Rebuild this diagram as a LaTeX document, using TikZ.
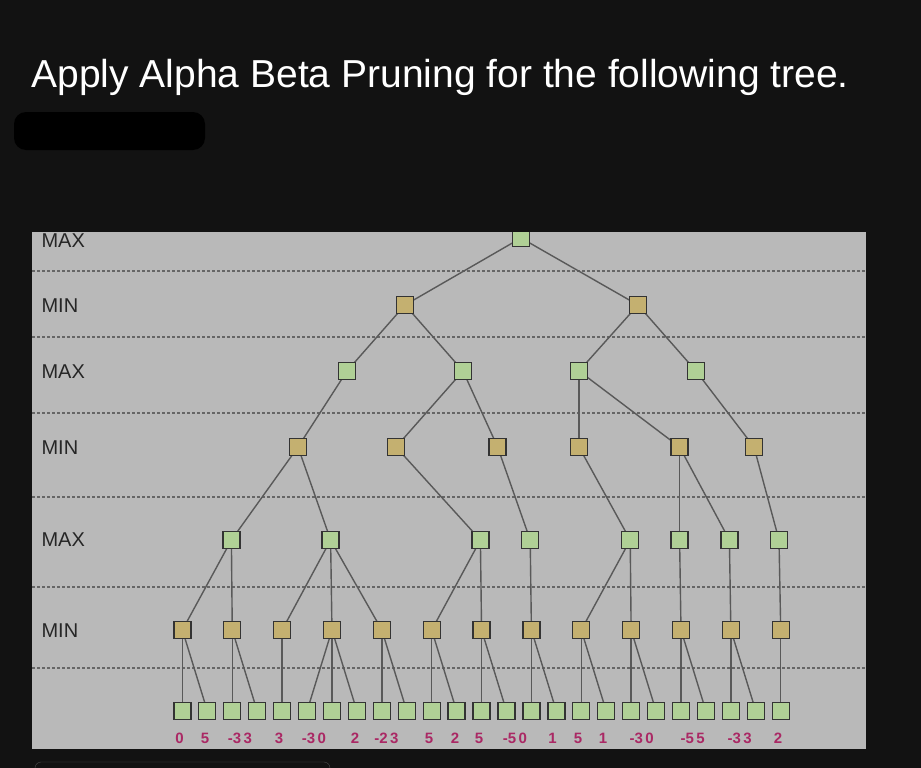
\documentclass[tikz,border=0pt]{standalone}
\usepackage{fontspec}
\setmainfont{Liberation Sans}
\begin{document}
\begin{tikzpicture}[x=1pt,y=-1pt,
  mx/.style={draw=black!80,fill={rgb,255:red,176;green,208;blue,150},minimum size=17pt,inner sep=0pt,line width=1.3pt},
  mn/.style={draw=black!80,fill={rgb,255:red,196;green,176;blue,112},minimum size=17pt,inner sep=0pt,line width=1.3pt},
  edge/.style={draw=black!65,line width=1.4pt},
  sep/.style={black!60,densely dashed,line width=1.1pt},
  lvl/.style={anchor=west,font=\fontsize{20}{20}\selectfont,text=black!85},
  val/.style={font=\fontsize{15}{15}\selectfont\bfseries,text={rgb,255:red,170;green,40;blue,100}}]
\useasboundingbox (0,0) rectangle (921,768);
\fill[black!93] (0,0) rectangle (921,768);
\node[anchor=west,text=white,font=\fontsize{39}{39}\selectfont] (title) at (28,77) {Apply Alpha Beta Pruning for the following tree.};
\fill[black, rounded corners=12pt] (14,112) rectangle (205,150);
\draw[black!70,rounded corners=6pt] (35,778) rectangle (330,762);
\fill[gray!55!white] (32,232) rectangle (866,749);
\begin{scope}
\clip (32,232) rectangle (866,749);
\foreach \y in {271,337,413,497,587,668} \draw[sep] (32,\y) -- (866,\y);
\node[lvl] (l0) at (38,241) {MAX};
\node[lvl] (l1) at (38,306) {MIN};
\node[lvl] (l2) at (38,372) {MAX};
\node[lvl] (l3) at (38,448) {MIN};
\node[lvl] (l4) at (38,540) {MAX};
\node[lvl] (l5) at (38,631) {MIN};
\foreach \i in {0,...,24} \coordinate (L\i) at ({182.4+24.93*\i},711);
\foreach \j in {0,...,12} \coordinate (N\j) at ({182.4+24.93*2*\j},630);
\coordinate (M0) at (231.4,540);
\coordinate (M1) at (330.6,540);
\coordinate (M2) at (480.4,540);
\coordinate (M3) at (530.2,540);
\coordinate (M4) at (630.2,540);
\coordinate (M5) at (679.6,540);
\coordinate (M6) at (729.4,540);
\coordinate (M7) at (779,540);
\coordinate (m0) at (298,447);
\coordinate (m1) at (396,447);
\coordinate (m2) at (497.6,447);
\coordinate (m3) at (579,447);
\coordinate (m4) at (679.6,447);
\coordinate (m5) at (754,447);
\coordinate (X0) at (347,371);
\coordinate (X1) at (463,371);
\coordinate (X2) at (579,371);
\coordinate (X3) at (696,371);
\coordinate (Y0) at (405,305);
\coordinate (Y1) at (638,305);
\coordinate (R) at (521,238);
\foreach \a/\b in {R/Y0,R/Y1,Y0/X0,Y0/X1,Y1/X2,Y1/X3,X0/m0,X1/m1,X1/m2,X2/m3,X2/m4,X3/m5,
  m0/M0,m0/M1,m1/M2,m2/M3,m3/M4,m4/M5,m4/M6,m5/M7,
  M0/N0,M0/N1,M1/N2,M1/N3,M1/N4,M2/N5,M2/N6,M3/N7,M4/N8,M4/N9,M5/N10,M6/N11,M7/N12,
  N0/L0,N0/L1,N1/L2,N1/L3,N2/L4,N3/L5,N3/L6,N3/L7,N4/L8,N4/L9,N5/L10,N5/L11,N6/L12,N6/L13,
  N7/L14,N7/L15,N8/L16,N8/L17,N9/L18,N9/L19,N10/L20,N10/L21,N11/L22,N11/L23,N12/L24}
  \draw[edge] (\a) -- (\b);
\foreach \i in {0,...,24} \node[mx] (nL\i) at (L\i) {};
\foreach \j in {0,...,12} \node[mn] (nN\j) at (N\j) {};
\foreach \n in {M0,M1,M2,M3,M4,M5,M6,M7,X0,X1,X2,X3,R} \node[mx] (n\n) at (\n) {};
\foreach \n in {m0,m1,m2,m3,m4,m5,Y0,Y1} \node[mn] (n\n) at (\n) {};
\foreach \x/\v [count=\k] in {179.6/0,205/5,240/-3\,3,279/3,314/-3\,0,355/2,386.5/-2\,3,429/5,455/2,479/5,515/-5\,0,552.6/1,578/5,603/1,641.6/-3\,0,692.6/-5\,5,739.6/-3\,3,778/2}
  \node[val] (V\k) at (\x,738) {\v};
\end{scope}
\end{tikzpicture}
\end{document}
